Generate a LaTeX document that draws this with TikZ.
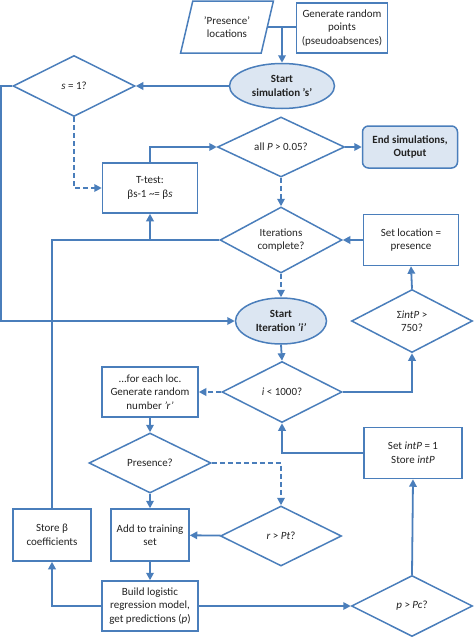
\documentclass[tikz,border=0pt]{standalone}
\usepackage{fontspec}
\setmainfont{Carlito}
\usepackage{tikz}
\usetikzlibrary{positioning, calc, shapes.geometric, arrows.meta}
\definecolor{flowblue}{HTML}{4A7EBB}
\definecolor{paleblue}{HTML}{DCE6F2}
\definecolor{ink}{HTML}{222222}

\begin{document}
\begin{tikzpicture}[
		x=1pt, y=-1pt,
		every node/.style={draw=flowblue, line width=1.5pt, text=ink, align=center, inner sep=0pt,
			font=\fontsize{11}{13.5}\selectfont},
		box/.style={rectangle, minimum width=95, minimum height=50},
		ask/.style={diamond, aspect=2, minimum width=122, minimum height=61},
		start/.style={ellipse, fill=paleblue, font=\fontsize{11}{13.5}\selectfont\bfseries},
		flow/.style={draw=flowblue, line width=1.8pt, -{Triangle[length=7.5pt,width=7.5pt]}},
		link/.style={draw=flowblue, line width=1.8pt},
		maybe/.style={flow, dash pattern=on 5pt off 3pt}]
		\useasboundingbox (0,0) rectangle (474,637);

		\node[trapezium, trapezium left angle=69, trapezium right angle=111, trapezium stretches=true,
			minimum width=93, minimum height=52] (pres) at (227,27) {'Presence'\\locations};
		\node[box, minimum width=91] (gen) at (342,28) {Generate random\\points\\(pseudoabsences)};
		\node[start, minimum width=105, minimum height=45] (startsim) at (282,86) {Start\\simulation 's'};
		\node[ask] (sone) at (74,86) {\textit{s} = 1?};
		\node[box] (ttest) at (150,188) {T-test:\\βs-1 \textasciitilde= β\textit{s}};
		\node[ask, minimum width=127, minimum height=60] (allp) at (281,147) {all \textit{P} > 0.05?};
		\node[box, rounded corners=6pt, fill=paleblue, minimum height=42, font=\fontsize{11}{13.5}\selectfont\bfseries]
			(endsim) at (410,147) {End simulations,\\Output};
		\node[ask, minimum height=66] (iter) at (281,240) {Iterations\\complete?};
		\node[box, minimum height=51] (setloc) at (411,240) {Set location =\\presence};
		\node[start, minimum width=91, minimum height=46] (startit) at (281,321) {Start\\Iteration \textit{'i'}};
		\node[ask, minimum width=120] (ilt) at (282,392) {\textit{i} < 1000?};
		\node[ask, minimum width=121, minimum height=63] (sumint) at (412,321) {Σ\textit{intP} >\\750?};
		\node[box, minimum width=96] (foreach) at (150,392) {...for each loc.\\Generate random\\number \textit{'r'}};
		\node[ask, minimum height=60] (presq) at (150,463) {Presence?};
		\node[ask, minimum width=121, minimum height=60] (rpt) at (281,536) {\textit{r} > \textit{Pt}?};
		\node[box, minimum width=78, minimum height=52] (addtr) at (150,535) {Add to training\\set};
		\node[box, minimum width=96] (build) at (150,606) {Build logistic\\regression model,\\get predictions (\textit{p})};
		\node[box, minimum width=78, minimum height=52] (storeb) at (52,535) {Store β\\coefficients};
		\node[ask, minimum width=121] (ppc) at (412,606) {\textit{p} > \textit{Pc}?};
		\node[box, minimum width=98, minimum height=51] (setint) at (413,453) {Set \textit{intP} = 1\\Store \textit{intP}};

		\draw[link] (pres.east) -- (pres.east -| gen.west);
		\draw[flow] (startsim.north |- pres.east) -- (startsim.north);
		\draw[flow] (startsim) -- (sone);
		\draw[flow] (sone.west) -- ++(-11,0) |- (startit.west);
		\draw[maybe] (sone.south) |- (ttest.west);
		\draw[flow] (ttest.north) |- (allp.west);
		\draw[flow] (allp) -- (endsim);
		\draw[maybe] (allp.south) -- (iter.north);

		\draw[flow] (setloc) -- (iter);
		\draw[link] (storeb.north) |- (iter.west);
		\draw[flow] (ttest.south |- iter.west) -- (ttest.south);
		\draw[maybe] (iter.south) -- (startit.north);
		\draw[flow] (startit.south) -- (ilt.north);
		\draw[maybe] (ilt.west) -- (foreach.east);
		\draw[flow] (ilt.east) -| (sumint.south);
		\draw[flow] (sumint.north) -- (setloc.south);

		\draw[flow] (foreach) -- (presq);
		\draw[maybe] (presq.east) -| (rpt.north);
		\draw[flow] (presq) -- (addtr);
		\draw[flow] (rpt) -- (addtr);
		\draw[flow] (addtr) -- (build);
		\draw[flow] (build.west) -| (storeb.south);
		\draw[flow] (build) -- (ppc);
		\draw[flow] (ppc.north) -- (setint.south);
		\draw[flow] (setint.west) -| (ilt.south);

\end{tikzpicture}
\end{document}
